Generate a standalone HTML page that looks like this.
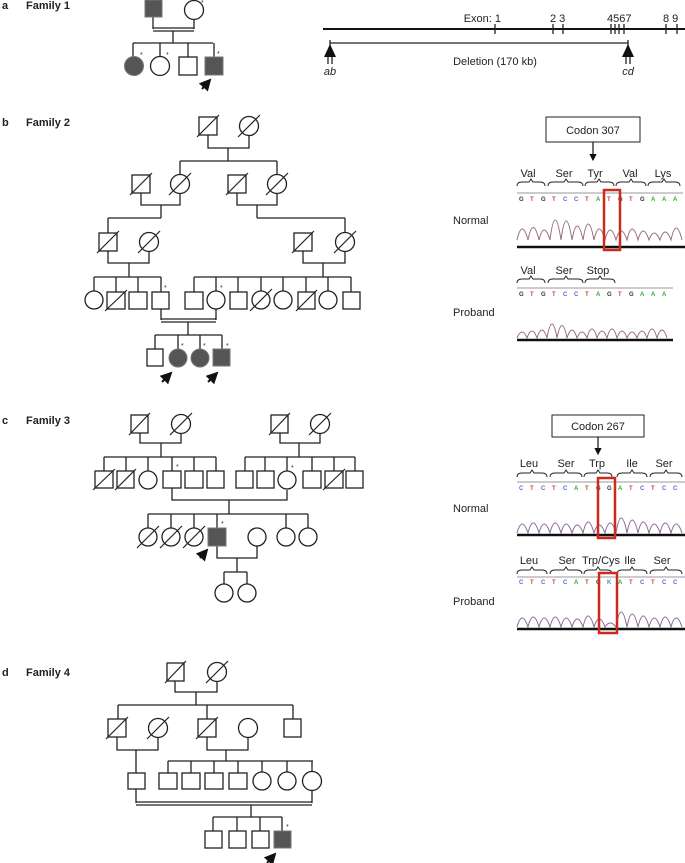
<!DOCTYPE html>
<html><head><meta charset="utf-8"><style>
html,body{margin:0;padding:0;background:#fff;}
svg{display:block;font-family:"Liberation Sans",sans-serif;}
.p{fill:none;stroke:#222;stroke-width:1.3;}
.o{fill:#fff;stroke:#222;stroke-width:1.3;}
.f{fill:#555;stroke:#777;stroke-width:1;}
.t{font-size:11px;fill:#222;}
.b{font-size:11px;font-weight:bold;fill:#222;}
.s{font-size:7px;fill:#333;}
.br{fill:none;stroke:#222;stroke-width:1;}
.bs{font-size:6px;font-weight:bold;}
</style></head><body>
<svg width="685" height="863" viewBox="0 0 685 863" xmlns="http://www.w3.org/2000/svg">
<defs>
<marker id="ah" markerWidth="6" markerHeight="6" refX="5" refY="3" orient="auto"><path d="M0,0 L6,3 L0,6 z" fill="#111"/></marker>
</defs>

<!-- Panel labels -->
<text x="2" y="9" class="b">a</text><text x="26" y="9" class="b">Family 1</text>
<text x="2" y="126" class="b">b</text><text x="26" y="126" class="b">Family 2</text>
<text x="2" y="424" class="b">c</text><text x="26" y="424" class="b">Family 3</text>
<text x="2" y="676" class="b">d</text><text x="26" y="676" class="b">Family 4</text>

<!-- ===== Family 1 ===== -->
<path class="p" d="M153,17V29 M194,19V29 M173,31V43 M133,43H213 M133,43V57 M160,43V57 M188,43V57 M214,43V57"/>
<path class="p" stroke-width="1" d="M153,28 H194 M153,31 H194"/>
<rect x="145" y="0" width="17" height="17" class="f"/>
<circle cx="194" cy="10" r="9.5" class="o"/><text x="201" y="5" class="s">*</text>
<circle cx="134" cy="66" r="9.5" class="f"/><text x="140" y="57" class="s">*</text>
<circle cx="160" cy="66" r="9.5" class="o"/><text x="166" y="57" class="s">*</text>
<rect x="179" y="57" width="18" height="18" class="o"/>
<rect x="205" y="57" width="18" height="18" class="f"/><text x="217" y="56" class="s">*</text>
<line x1="202" y1="89" x2="210" y2="80" stroke="#111" stroke-width="2" marker-end="url(#ah)"/>

<!-- chromosome -->
<line x1="323" y1="29" x2="685" y2="29" stroke="#111" stroke-width="2"/>
<path class="p" stroke-width="1.2" d="M495,24V34 M553,24V34 M563,24V34 M611,24V34 M615,24V34 M619,24V34 M624,24V34 M666,24V34 M677,24V34"/>
<text x="501" y="22" class="t" text-anchor="end" font-size="10">Exon: 1</text>
<text x="550" y="22" class="t" font-size="10">2 3</text>
<text x="607" y="22" class="t" font-size="10">4567</text>
<text x="663" y="22" class="t" font-size="10">8 9</text>
<path class="p" stroke-width="1" d="M330,43 H628 M330,40V47 M628,40V47"/>
<path d="M324,57 L330,44 L336,57 z M622,57 L628,44 L634,57 z" fill="#111"/>
<path class="p" stroke-width="1" d="M328,57V64 M332,57V64 M626,57V64 M630,57V64"/>
<text x="330" y="75" class="t" text-anchor="middle" font-style="italic" font-size="10">ab</text>
<text x="628" y="75" class="t" text-anchor="middle" font-style="italic" font-size="10">cd</text>
<text x="495" y="65" class="t" text-anchor="middle">Deletion (170 kb)</text>

<!-- ===== Family 2 ===== -->
<path class="p" d="M208,135V148H249V136 M228,148V161 M180,161H277 M180,161V175 M277,161V175
M141,193V205H180V194 M161,205V218 M108,218H161 M108,218V233 M237,193V205H277V194 M257,205V218 M257,218H345 M345,218V233
M108,251V263H149V252 M129,263V277 M94,277H161 M94,277V291 M116,277V292 M138,277V292 M161,277V292
M303,251V263H345V252 M323,263V277 M194,277H351 M194,277V292 M216,277V291 M238,277V292 M261,277V291 M283,277V291 M306,277V292 M328,277V291 M351,277V292
M161,309V320 M216,309V320 M188,322V335 M155,335H222 M155,335V349 M178,335V349 M200,335V349 M222,335V349"/>
<path class="p" stroke-width="1" d="M161,319H216 M161,322H216"/>
<rect x="199" y="117" width="18" height="18" class="o"/><line x1="197" y1="137" x2="219" y2="115" stroke="#222" stroke-width="1.2"/>
<circle cx="249" cy="126" r="9.5" class="o"/><line x1="238" y1="137" x2="260" y2="115" stroke="#222" stroke-width="1.2"/>
<rect x="132" y="175" width="18" height="18" class="o"/><line x1="130" y1="195" x2="152" y2="173" stroke="#222" stroke-width="1.2"/>
<circle cx="180" cy="184" r="9.5" class="o"/><line x1="169" y1="195" x2="191" y2="173" stroke="#222" stroke-width="1.2"/>
<rect x="228" y="175" width="18" height="18" class="o"/><line x1="226" y1="195" x2="248" y2="173" stroke="#222" stroke-width="1.2"/>
<circle cx="277" cy="184" r="9.5" class="o"/><line x1="266" y1="195" x2="288" y2="173" stroke="#222" stroke-width="1.2"/>
<rect x="99" y="233" width="18" height="18" class="o"/><line x1="97" y1="253" x2="119" y2="231" stroke="#222" stroke-width="1.2"/>
<circle cx="149" cy="242" r="9.5" class="o"/><line x1="138" y1="253" x2="160" y2="231" stroke="#222" stroke-width="1.2"/>
<rect x="294" y="233" width="18" height="18" class="o"/><line x1="292" y1="253" x2="314" y2="231" stroke="#222" stroke-width="1.2"/>
<circle cx="345" cy="242" r="9.5" class="o"/><line x1="334" y1="253" x2="356" y2="231" stroke="#222" stroke-width="1.2"/>
<circle cx="94" cy="300" r="9" class="o"/>
<rect x="107" y="292" width="18" height="17" class="o"/><line x1="105" y1="311" x2="127" y2="290" stroke="#222" stroke-width="1.2"/>
<rect x="129" y="292" width="18" height="17" class="o"/>
<rect x="152" y="292" width="17" height="17" class="o"/><text x="164" y="290" class="s">*</text>
<rect x="185" y="292" width="18" height="17" class="o"/>
<circle cx="216" cy="300" r="9" class="o"/><text x="220" y="290" class="s">*</text>
<rect x="230" y="292" width="17" height="17" class="o"/>
<circle cx="261" cy="300" r="9" class="o"/><line x1="250" y1="311" x2="272" y2="289" stroke="#222" stroke-width="1.2"/>
<circle cx="283" cy="300" r="9" class="o"/>
<rect x="298" y="292" width="17" height="17" class="o"/><line x1="296" y1="311" x2="317" y2="290" stroke="#222" stroke-width="1.2"/>
<circle cx="328" cy="300" r="9" class="o"/>
<rect x="343" y="292" width="17" height="17" class="o"/>
<rect x="147" y="349" width="16" height="17" class="o"/>
<circle cx="178" cy="358" r="9" class="f"/><text x="181" y="348" class="s">*</text>
<circle cx="200" cy="358" r="9" class="f"/><text x="203" y="348" class="s">*</text>
<rect x="213" y="349" width="17" height="17" class="f"/><text x="226" y="348" class="s">*</text>
<line x1="162" y1="382" x2="171" y2="373" stroke="#111" stroke-width="2" marker-end="url(#ah)"/>
<line x1="208" y1="382" x2="217" y2="373" stroke="#111" stroke-width="2" marker-end="url(#ah)"/>

<!-- ===== Family 3 ===== -->
<path class="p" d="M140,433V443H181V434 M161,443V457 M104,457H216 M104,457V471 M126,457V471 M148,457V471 M172,457V471 M194,457V471 M216,457V471
M280,433V443H320V434 M299,443V457 M245,457H355 M245,457V471 M265,457V471 M287,457V471 M312,457V471 M334,457V471 M355,457V471
M172,488V500H287V490 M229,500V514 M148,514H308 M148,514V528 M171,514V528 M194,514V528 M217,514V528 M286,514V528 M308,514V528
M217,546V558H257V546 M237,558V572 M224,572H247 M224,572V584 M247,572V584"/>
<rect x="131" y="415" width="17" height="18" class="o"/><line x1="129" y1="435" x2="150" y2="413" stroke="#222" stroke-width="1.2"/>
<circle cx="181" cy="424" r="9.5" class="o"/><line x1="170" y1="435" x2="192" y2="413" stroke="#222" stroke-width="1.2"/>
<rect x="271" y="415" width="17" height="18" class="o"/><line x1="269" y1="435" x2="290" y2="413" stroke="#222" stroke-width="1.2"/>
<circle cx="320" cy="424" r="9.5" class="o"/><line x1="309" y1="435" x2="331" y2="413" stroke="#222" stroke-width="1.2"/>
<rect x="95" y="471" width="18" height="17" class="o"/><line x1="93" y1="490" x2="115" y2="469" stroke="#222" stroke-width="1.2"/>
<rect x="117" y="471" width="17" height="17" class="o"/><line x1="115" y1="490" x2="136" y2="469" stroke="#222" stroke-width="1.2"/>
<circle cx="148" cy="480" r="9" class="o"/>
<rect x="163" y="471" width="18" height="17" class="o"/><text x="176" y="469" class="s">*</text>
<rect x="185" y="471" width="18" height="17" class="o"/>
<rect x="207" y="471" width="17" height="17" class="o"/>
<rect x="236" y="471" width="17" height="17" class="o"/>
<rect x="257" y="471" width="17" height="17" class="o"/>
<circle cx="287" cy="480" r="9" class="o"/><text x="291" y="470" class="s">*</text>
<rect x="303" y="471" width="18" height="17" class="o"/>
<rect x="325" y="471" width="18" height="17" class="o"/><line x1="323" y1="490" x2="345" y2="469" stroke="#222" stroke-width="1.2"/>
<rect x="346" y="471" width="17" height="17" class="o"/>
<circle cx="148" cy="537" r="9" class="o"/><line x1="137" y1="548" x2="159" y2="526" stroke="#222" stroke-width="1.2"/>
<circle cx="171" cy="537" r="9" class="o"/><line x1="160" y1="548" x2="182" y2="526" stroke="#222" stroke-width="1.2"/>
<circle cx="194" cy="537" r="9" class="o"/><line x1="183" y1="548" x2="205" y2="526" stroke="#222" stroke-width="1.2"/>
<rect x="208" y="528" width="18" height="18" class="f"/><text x="221" y="526" class="s">*</text>
<circle cx="257" cy="537" r="9" class="o"/>
<circle cx="286" cy="537" r="9" class="o"/>
<circle cx="308" cy="537" r="9" class="o"/>
<circle cx="224" cy="593" r="9" class="o"/>
<circle cx="247" cy="593" r="9" class="o"/>
<line x1="200" y1="558" x2="207" y2="550" stroke="#111" stroke-width="2" marker-end="url(#ah)"/>

<!-- ===== Family 4 ===== -->
<path class="p" d="M175,681V692H217V682 M196,692V705 M118,705H293 M118,705V719 M207,705V719 M293,705V719
M117,737V750H158V738 M136,750V773 M207,737V750H248V738 M226,750V761 M168,761H313 M168,761V773 M191,761V773 M214,761V773 M238,761V773 M262,761V772 M287,761V772 M312,761V772
M136,789V803 M312,790V803 M251,805V817 M213,817H282 M213,817V831 M237,817V831 M260,817V831 M282,817V831"/>
<path class="p" stroke-width="1" d="M136,802H312 M136,805H312"/>
<rect x="167" y="663" width="17" height="18" class="o"/><line x1="165" y1="683" x2="186" y2="661" stroke="#222" stroke-width="1.2"/>
<circle cx="217" cy="672" r="9.5" class="o"/><line x1="206" y1="683" x2="228" y2="661" stroke="#222" stroke-width="1.2"/>
<rect x="108" y="719" width="18" height="18" class="o"/><line x1="106" y1="739" x2="128" y2="717" stroke="#222" stroke-width="1.2"/>
<circle cx="158" cy="728" r="9.5" class="o"/><line x1="147" y1="739" x2="169" y2="717" stroke="#222" stroke-width="1.2"/>
<rect x="198" y="719" width="18" height="18" class="o"/><line x1="196" y1="739" x2="218" y2="717" stroke="#222" stroke-width="1.2"/>
<circle cx="248" cy="728" r="9.5" class="o"/>
<rect x="284" y="719" width="17" height="18" class="o"/>
<rect x="128" y="773" width="17" height="16" class="o"/>
<rect x="159" y="773" width="18" height="16" class="o"/>
<rect x="182" y="773" width="18" height="16" class="o"/>
<rect x="205" y="773" width="18" height="16" class="o"/>
<rect x="229" y="773" width="18" height="16" class="o"/>
<circle cx="262" cy="781" r="9" class="o"/>
<circle cx="287" cy="781" r="9" class="o"/>
<circle cx="312" cy="781" r="9.5" class="o"/>
<rect x="205" y="831" width="17" height="17" class="o"/>
<rect x="229" y="831" width="17" height="17" class="o"/>
<rect x="252" y="831" width="17" height="17" class="o"/>
<rect x="274" y="831" width="17" height="17" class="f"/><text x="286" y="829" class="s">*</text>
<line x1="267" y1="863" x2="275" y2="854" stroke="#111" stroke-width="2" marker-end="url(#ah)"/>

<!-- ===== Chromatogram b ===== -->
<rect x="546" y="117" width="94" height="25" fill="#fff" stroke="#222" stroke-width="1"/>
<text x="593" y="134" class="t" text-anchor="middle">Codon 307</text>
<line x1="593" y1="142" x2="593" y2="160" stroke="#111" stroke-width="1.2" marker-end="url(#ah)"/>
<g class="t" text-anchor="middle">
<text x="528" y="177">Val</text><text x="564" y="177">Ser</text><text x="595" y="177">Tyr</text><text x="630" y="177">Val</text><text x="663" y="177">Lys</text>
</g>
<path class="br" d="M517,186q0,-4 5,-4h7l2,-3l2,3h7q5,0 5,4 M548,186q0,-4 5,-4h11l2,-3l2,3h10q5,0 5,4 M585,186q0,-4 5,-4h7l2,-3l2,3h8q5,0 5,4 M616,186q0,-4 5,-4h8l2,-3l2,3h8q5,0 5,4 M648,186q0,-4 5,-4h9l2,-3l2,3h9q5,0 5,4"/>
<line x1="517" y1="193" x2="683" y2="193" stroke="#999" stroke-width="1"/>
<g class="bs"><text x="519" y="201" fill="#333">G</text><text x="530" y="201" fill="#c44">T</text><text x="541" y="201" fill="#333">G</text><text x="552" y="201" fill="#c44">T</text><text x="563" y="201" fill="#66c">C</text><text x="574" y="201" fill="#66c">C</text><text x="585" y="201" fill="#c44">T</text><text x="596" y="201" fill="#3a3">A</text><text x="607" y="201" fill="#c44">T</text><text x="618" y="201" fill="#333">G</text><text x="629" y="201" fill="#c44">T</text><text x="640" y="201" fill="#333">G</text><text x="651" y="201" fill="#3a3">A</text><text x="662" y="201" fill="#3a3">A</text><text x="673" y="201" fill="#3a3">A</text></g>
<path d="M517,240q5,-22 11,0q5,-25 11,0q5,-20 11,0q5,-40 11,0q5,-38 11,0q5,-28 11,0q5,-32 11,0q5,-22 11,0q5,-20 11,0q5,-18 11,0q5,-22 11,0q5,-18 11,0q5,-14 11,0q5,-16 11,0q5,-24 11,0" fill="none" stroke="#9a6c84" stroke-width="1"/>
<line x1="517" y1="247" x2="685" y2="247" stroke="#111" stroke-width="2.5"/>
<rect x="604" y="190" width="16" height="60" fill="none" stroke="#cc2a1e" stroke-width="2.5"/>
<text x="453" y="224" class="t">Normal</text>
<g class="t" text-anchor="middle"><text x="528" y="274">Val</text><text x="564" y="274">Ser</text><text x="598" y="274">Stop</text></g>
<path class="br" d="M517,283q0,-4 5,-4h7l2,-3l2,3h7q5,0 5,4 M548,283q0,-4 5,-4h11l2,-3l2,3h10q5,0 5,4 M585,283q0,-4 5,-4h8l2,-3l2,3h8q5,0 5,4"/>
<line x1="517" y1="288" x2="673" y2="288" stroke="#999" stroke-width="1"/>
<g class="bs"><text x="519" y="296" fill="#333">G</text><text x="530" y="296" fill="#c44">T</text><text x="541" y="296" fill="#333">G</text><text x="552" y="296" fill="#c44">T</text><text x="563" y="296" fill="#66c">C</text><text x="574" y="296" fill="#66c">C</text><text x="585" y="296" fill="#c44">T</text><text x="596" y="296" fill="#3a3">A</text><text x="607" y="296" fill="#333">G</text><text x="618" y="296" fill="#c44">T</text><text x="629" y="296" fill="#333">G</text><text x="640" y="296" fill="#3a3">A</text><text x="651" y="296" fill="#3a3">A</text><text x="662" y="296" fill="#3a3">A</text></g>
<path d="M517,338q5,-12 10,0q5,-14 10,0q5,-16 10,0q5,-28 10,0q5,-25 10,0q5,-16 10,0q5,-12 10,0q5,-18 10,0q5,-14 10,0q5,-18 10,0q5,-14 10,0q5,-12 10,0q5,-14 10,0q5,-18 10,0q5,-16 10,0" fill="none" stroke="#9a6c84" stroke-width="1"/>
<line x1="517" y1="340" x2="673" y2="340" stroke="#111" stroke-width="2.5"/>
<text x="453" y="316" class="t">Proband</text>

<!-- ===== Chromatogram c ===== -->
<rect x="552" y="415" width="92" height="22" fill="#fff" stroke="#222" stroke-width="1"/>
<text x="598" y="430" class="t" text-anchor="middle">Codon 267</text>
<line x1="598" y1="437" x2="598" y2="454" stroke="#111" stroke-width="1.2" marker-end="url(#ah)"/>
<g class="t" text-anchor="middle"><text x="529" y="467">Leu</text><text x="566" y="467">Ser</text><text x="597" y="467">Trp</text><text x="632" y="467">Ile</text><text x="664" y="467">Ser</text></g>
<path class="br" d="M517,477q0,-4 5,-4h8l2,-3l2,3h8q5,0 5,4 M550,477q0,-4 5,-4h9l2,-3l2,3h9q5,0 5,4 M584,477q0,-4 5,-4h7l2,-3l2,3h7q5,0 5,4 M617,477q0,-4 5,-4h8l2,-3l2,3h8q5,0 5,4 M650,477q0,-4 5,-4h9l2,-3l2,3h9q5,0 5,4"/>
<line x1="517" y1="482" x2="685" y2="482" stroke="#999" stroke-width="1"/>
<g class="bs"><text x="519" y="490" fill="#66c">C</text><text x="530" y="490" fill="#c44">T</text><text x="541" y="490" fill="#66c">C</text><text x="552" y="490" fill="#c44">T</text><text x="563" y="490" fill="#66c">C</text><text x="574" y="490" fill="#3a3">A</text><text x="585" y="490" fill="#c44">T</text><text x="596" y="490" fill="#333">G</text><text x="607" y="490" fill="#333">G</text><text x="618" y="490" fill="#3a3">A</text><text x="629" y="490" fill="#c44">T</text><text x="640" y="490" fill="#66c">C</text><text x="651" y="490" fill="#c44">T</text><text x="662" y="490" fill="#66c">C</text><text x="673" y="490" fill="#66c">C</text></g>
<path d="M517,533q5,-18 11,0q5,-20 11,0q5,-18 11,0q5,-20 11,0q5,-18 11,0q5,-16 11,0q5,-22 11,0q5,-16 11,0q5,-20 11,0q5,-30 11,0q5,-26 11,0q5,-22 11,0q5,-18 11,0q5,-20 11,0q5,-18 11,0" fill="none" stroke="#8a6a9a" stroke-width="1"/>
<line x1="517" y1="535" x2="685" y2="535" stroke="#111" stroke-width="2.5"/>
<rect x="598" y="478" width="17" height="60" fill="none" stroke="#cc2a1e" stroke-width="2.5"/>
<text x="453" y="512" class="t">Normal</text>
<g class="t" text-anchor="middle"><text x="529" y="564">Leu</text><text x="567" y="564">Ser</text><text x="601" y="564">Trp/Cys</text><text x="630" y="564">Ile</text><text x="662" y="564">Ser</text></g>
<path class="br" d="M517,574q0,-4 5,-4h8l2,-3l2,3h8q5,0 5,4 M550,574q0,-4 5,-4h9l2,-3l2,3h9q5,0 5,4 M584,574q0,-4 5,-4h7l2,-3l2,3h7q5,0 5,4 M617,574q0,-4 5,-4h8l2,-3l2,3h8q5,0 5,4 M650,574q0,-4 5,-4h9l2,-3l2,3h9q5,0 5,4"/>
<line x1="517" y1="577" x2="685" y2="577" stroke="#999" stroke-width="1"/>
<g class="bs"><text x="519" y="584" fill="#66c">C</text><text x="530" y="584" fill="#c44">T</text><text x="541" y="584" fill="#66c">C</text><text x="552" y="584" fill="#c44">T</text><text x="563" y="584" fill="#66c">C</text><text x="574" y="584" fill="#3a3">A</text><text x="585" y="584" fill="#c44">T</text><text x="596" y="584" fill="#333">G</text><text x="607" y="584" fill="#39c">K</text><text x="618" y="584" fill="#3a3">A</text><text x="629" y="584" fill="#c44">T</text><text x="640" y="584" fill="#66c">C</text><text x="651" y="584" fill="#c44">T</text><text x="662" y="584" fill="#66c">C</text><text x="673" y="584" fill="#66c">C</text></g>
<path d="M517,627q5,-18 11,0q5,-20 11,0q5,-18 11,0q5,-20 11,0q5,-18 11,0q5,-16 11,0q5,-22 11,0q5,-16 11,0q5,-8 11,0q5,-30 11,0q5,-26 11,0q5,-22 11,0q5,-18 11,0q5,-20 11,0q5,-18 11,0" fill="none" stroke="#8a6a9a" stroke-width="1"/>
<line x1="517" y1="629" x2="685" y2="629" stroke="#111" stroke-width="2.5"/>
<rect x="599" y="573" width="18" height="60" fill="none" stroke="#cc2a1e" stroke-width="2.5"/>
<text x="453" y="605" class="t">Proband</text>
</svg>
</body></html>
